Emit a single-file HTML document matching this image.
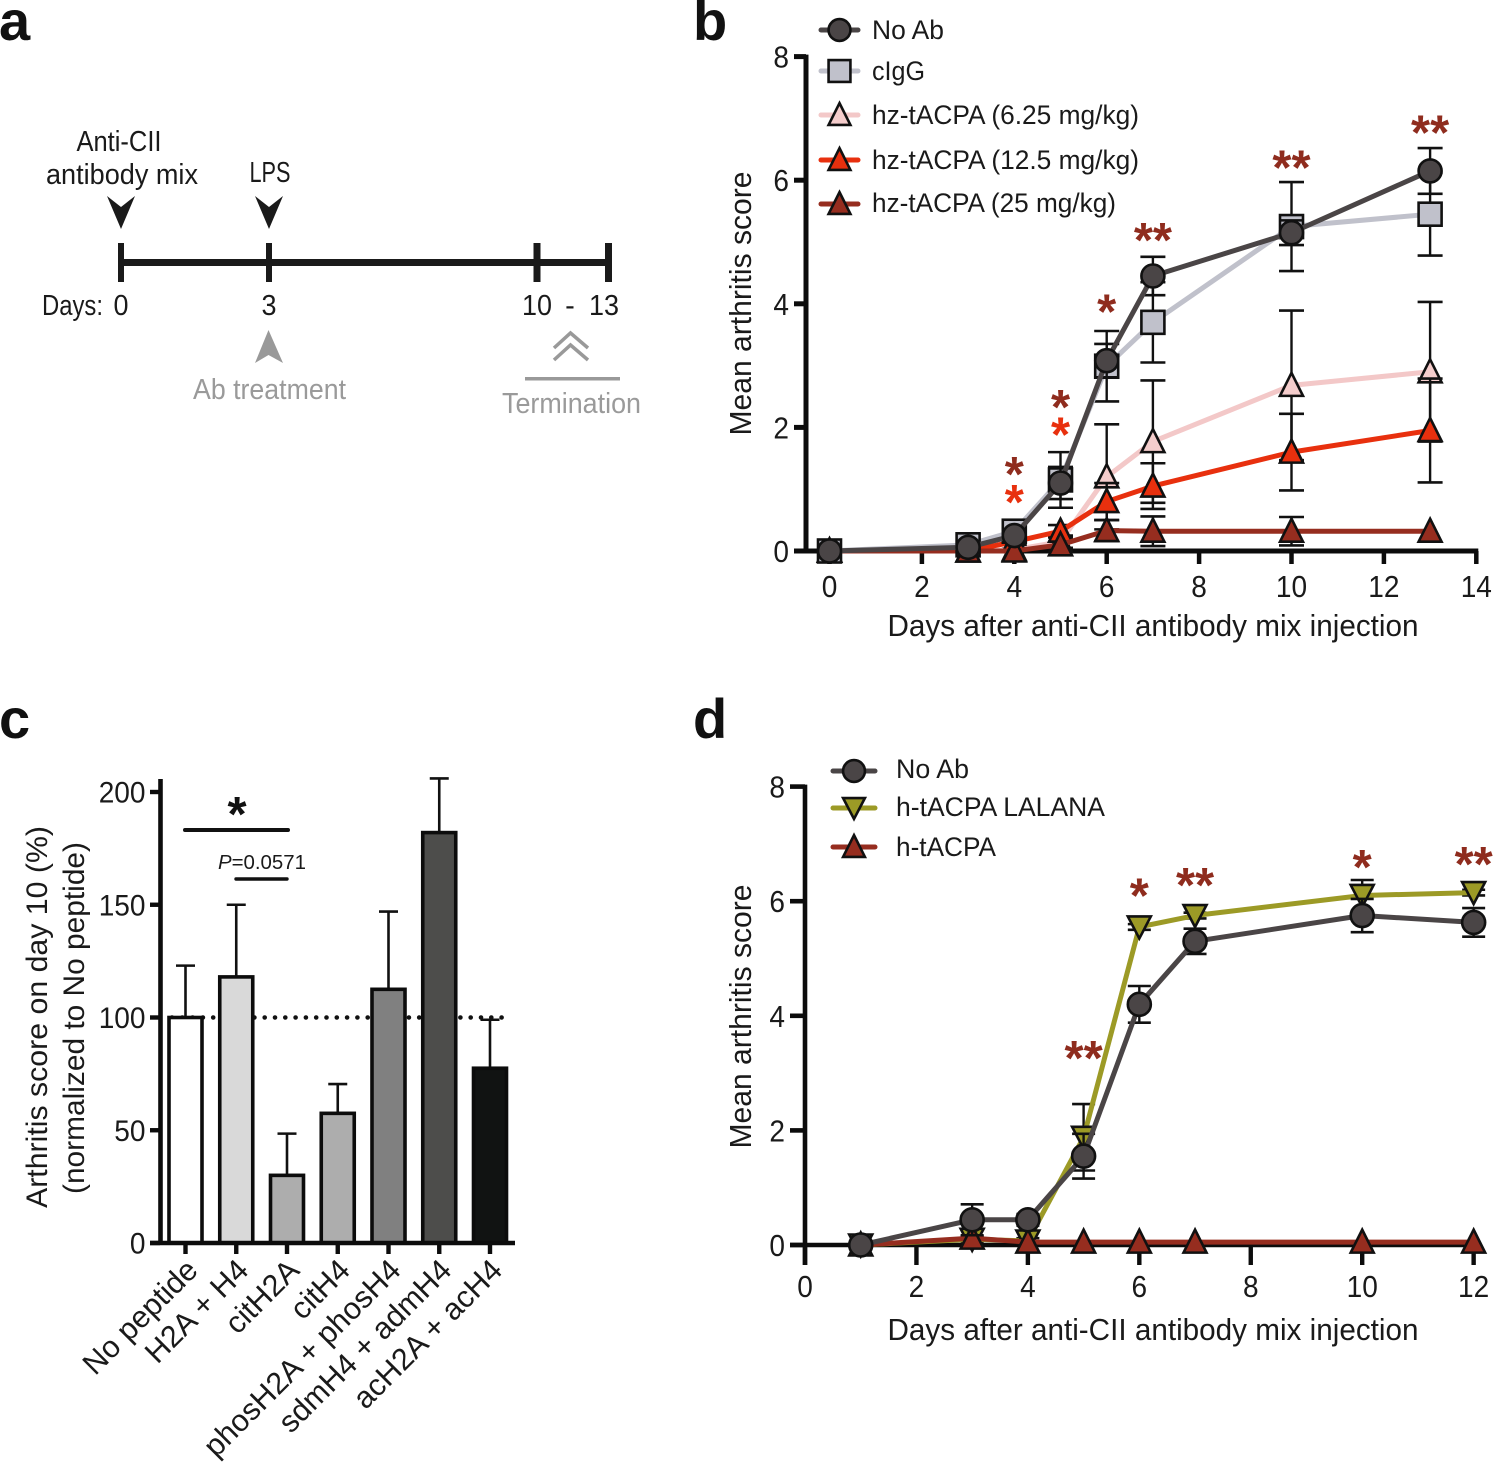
<!DOCTYPE html>
<html lang="en">
<head>
<meta charset="utf-8">
<title>Arthritis score figure</title>
<style>
html,body{margin:0;padding:0;background:#fff;}
svg{display:block;font-family:"Liberation Sans",Arial,sans-serif;}
</style>
</head>
<body>
<svg id="fig" xmlns="http://www.w3.org/2000/svg" width="1494" height="1468" viewBox="0 0 1494 1468">
  <rect width="1494" height="1468" fill="#fff"/>
  <text x="-1" y="40" font-size="56" font-weight="bold" fill="#111">a</text>
  <text x="693" y="40" font-size="56" font-weight="bold" fill="#111">b</text>
  <text x="-1" y="738" font-size="56" font-weight="bold" fill="#111">c</text>
  <text x="693" y="738" font-size="56" font-weight="bold" fill="#111">d</text>

  <g fill="#1a1a1a" font-size="28">
    <text x="119" y="151" text-anchor="middle" font-size="29" textLength="85" lengthAdjust="spacingAndGlyphs">Anti-CII</text>
    <text x="122" y="184" text-anchor="middle" font-size="29" textLength="152" lengthAdjust="spacingAndGlyphs">antibody mix</text>
    <text x="270" y="182" text-anchor="middle" font-size="29" textLength="41" lengthAdjust="spacingAndGlyphs">LPS</text>
    <polygon points="107,196 121,207 135,196 121,229" fill="#1a1a1a"/>
    <polygon points="255,196 269,207 283,196 269,229" fill="#1a1a1a"/>
    <rect x="121" y="259" width="487" height="7" fill="#1a1a1a"/>
    <rect x="118" y="243" width="6" height="39" fill="#1a1a1a"/>
    <rect x="266" y="243" width="6" height="39" fill="#1a1a1a"/>
    <rect x="533.500" y="243" width="7" height="39" fill="#1a1a1a"/>
    <rect x="605" y="243" width="7" height="39" fill="#1a1a1a"/>
    <text x="42" y="315" font-size="29" textLength="61" lengthAdjust="spacingAndGlyphs">Days:</text>
    <text x="121" y="315" text-anchor="middle" font-size="29" textLength="15" lengthAdjust="spacingAndGlyphs">0</text>
    <text x="269" y="315" text-anchor="middle" font-size="29" textLength="15" lengthAdjust="spacingAndGlyphs">3</text>
    <text x="537" y="315" text-anchor="middle" font-size="29" textLength="30" lengthAdjust="spacingAndGlyphs">10</text>
    <text x="570" y="315" text-anchor="middle" font-size="29">-</text>
    <text x="604" y="315" text-anchor="middle" font-size="29" textLength="30" lengthAdjust="spacingAndGlyphs">13</text>
    <polygon points="268.500,330 283,363 268.500,355 255,363" fill="#999"/>
    <text x="269.500" y="399" text-anchor="middle" font-size="29" fill="#9a9a9a" textLength="153" lengthAdjust="spacingAndGlyphs">Ab treatment</text>
    <polyline points="554,348 570.500,333 588,348" fill="none" stroke="#999" stroke-width="3.500"/>
    <polyline points="554,360 570.500,345 588,360" fill="none" stroke="#999" stroke-width="3.500"/>
    <rect x="525" y="377" width="95" height="3.500" fill="#999"/>
    <text x="571.500" y="413" text-anchor="middle" font-size="29" fill="#9a9a9a" textLength="139" lengthAdjust="spacingAndGlyphs">Termination</text>
  </g>
</svg>
<script>
// ---------- Panel b data ----------
const bDays = [0, 3, 4, 5, 6, 7, 10, 13];
const bXTicks = [0, 2, 4, 6, 8, 10, 12, 14];
const bYTicks = [0, 2, 4, 6, 8];
const bNoAb = [0, 0.06, 0.25, 1.1, 3.08, 4.45, 5.15, 6.15];
const bNoAbErr = [0, 0.08, 0.1, 0.26, 0.27, 0.31, 0.2, 0.37];
const bCIgG = [0, 0.1, 0.32, 1.15, 2.99, 3.7, 5.25, 5.45];
const bCIgGErr = [0, 0.1, 0.1, 0.45, 0.57, 0.65, 0.72, 0.67];
const bLow = [0, 0, 0.02, 0.15, 1.2, 1.77, 2.68, 2.9];
const bLowErr = [0, 0, 0.02, 0.1, 0.85, 0.99, 1.21, 1.13];
const bMid = [0, 0, 0.15, 0.32, 0.8, 1.05, 1.6, 1.95];
const bMidErr = [0, 0, 0.05, 0.1, 0.3, 0.37, 0.62, 0.84];
const bHigh = [0, 0, 0, 0.1, 0.33, 0.32, 0.32, 0.32];
const bHighErr = [0, 0, 0, 0.05, 0.17, 0.24, 0.23, 0];
const bBrownStarDays = [13, 10, 7, 6, 5, 4];
const bBrownStarLevels = [6.87, 6.3, 5.13, 3.97, 2.43, 1.34];
const bBrownStarLabels = ['**', '**', '**', '*', '*', '*'];
const bRedStarDays = [5, 4];
const bRedStarLevels = [1.98, 0.89];
const bRedStarLabels = ['*', '*'];

// ---------- Panel c data ----------
const cCategories = ['No peptide', 'H2A + H4', 'citH2A', 'citH4', 'phosH2A + phosH4', 'sdmH4 + admH4', 'acH2A + acH4'];
const cValues = [100, 118, 30, 57.5, 112.5, 182, 77.5];
const cUpper = [123, 150, 48.5, 70.5, 147, 206, 99];
const cYTicks = [0, 50, 100, 150, 200];
const cReference = 100;

// ---------- Panel d data ----------
const dDays = [1, 3, 4, 5, 6, 7, 10, 12];
const dXTicks = [0, 2, 4, 6, 8, 10, 12];
const dYTicks = [0, 2, 4, 6, 8];
const dNoAb = [0, 0.44, 0.44, 1.55, 4.2, 5.3, 5.75, 5.63];
const dNoAbErr = [0, 0.27, 0.1, 0.39, 0.32, 0.22, 0.29, 0.25];
const dLalana = [0, 0.1, 0.07, 1.88, 5.55, 5.75, 6.1, 6.15];
const dLalanaErr = [0, 0.05, 0.05, 0.58, 0.05, 0.05, 0.27, 0.05];
const dTacpa = [0, 0.12, 0.05, 0.05, 0.05, 0.05, 0.05, 0.05];
const dTacpaErr = [0, 0.03, 0, 0, 0, 0, 0, 0];
const dStarDays = [5, 6, 7, 10, 12];
const dStarLevels = [3.37, 6.2, 6.39, 6.7, 6.75];
const dStarLabels = ['**', '*', '**', '*', '**'];

// ---------- Axis functions ----------
function bX(v) { return 829.5 + v * 46.2; }
function bY(v) { return 551 - v * 61.8; }
function cY(v) { return 1243 - v * 2.255; }
function cX(i) { return 185.5 + i * 50.75; }
function dX(v) { return 805 + v * 55.72; }
function dY(v) { return 1245 - v * 57.3; }

const SVGNS = 'http://www.w3.org/2000/svg';
const fig = document.getElementById('fig');
function mk(tag, attrs, parent) {
  const el = document.createElementNS(SVGNS, tag);
  for (const k in attrs) el.setAttribute(k, attrs[k]);
  (parent || fig).appendChild(el);
  return el;
}
function group(name) {
  const g = mk('g', {});
  
  
  return g;
}
function seg(parent, x1, y1, x2, y2, color, w, cap) {
  return mk('line', { x1: x1, y1: y1, x2: x2, y2: y2, stroke: color, 'stroke-width': w, 'stroke-linecap': cap || 'butt' }, parent);
}
function label(parent, x, y, s, size, opts) {
  const o = opts || {};
  const a = { x: x, y: y, 'font-size': size, fill: o.fill || '#1a1a1a', 'text-anchor': o.anchor || 'start' };
  if (o.len) { a.textLength = o.len; a.lengthAdjust = 'spacingAndGlyphs'; }
  if (o.weight) a['font-weight'] = o.weight;
  if (o.transform) a.transform = o.transform;
  const t = mk('text', a, parent);
  t.textContent = s;
  return t;
}
function marker(parent, kind, x, y, fill, s) {
  const sw = 2.6, k = s || 1;
  if (kind === 'circle') return mk('circle', { cx: x, cy: y, r: 11.5 * k, fill: fill, stroke: '#111', 'stroke-width': sw }, parent);
  if (kind === 'square') return mk('rect', { x: x - 11.5 * k, y: y - 11.5 * k, width: 23 * k, height: 23 * k, fill: fill, stroke: '#111', 'stroke-width': sw }, parent);
  let pts;
  if (kind === 'up') pts = [x, y - 12.5 * k, x + 11.5 * k, y + 10.5 * k, x - 11.5 * k, y + 10.5 * k];
  else pts = [x - 11.5 * k, y - 10.5 * k, x + 11.5 * k, y - 10.5 * k, x, y + 11.5 * k];
  return mk('polygon', { points: pts.join(','), fill: fill, stroke: '#111', 'stroke-width': sw, 'stroke-linejoin': 'miter' }, parent);
}
function drawSeries(name, days, vals, errs, xf, yf, kind, lineColor, fill, capW) {
  const g = group(name + '-series');
  days.forEach(function (d, i) {
    if (errs[i] <= 0) return;
    const x = xf(d);
    const eb = group(name + '-error-bar');
    seg(eb, x, yf(vals[i] + errs[i]), x, yf(vals[i] - errs[i]), '#111', 2.4);
    seg(eb, x - capW / 2, yf(vals[i] + errs[i]), x + capW / 2, yf(vals[i] + errs[i]), '#111', 2.6);
    seg(eb, x - capW / 2, yf(vals[i] - errs[i]), x + capW / 2, yf(vals[i] - errs[i]), '#111', 2.6);
    g.appendChild(eb);
  });
  const line = mk('polyline', {
    points: days.map(function (d, i) { return xf(d) + ',' + yf(vals[i]); }).join(' '),
    fill: 'none', stroke: lineColor, 'stroke-width': 5, 'stroke-linejoin': 'round'
  }, g);
  
  
  days.forEach(function (d, i) {
    const m = marker(g, kind, xf(d), yf(vals[i]), fill);
    
    
  });
  fig.appendChild(g);
}
function drawStars(name, days, levels, labels, xf, yf, color) {
  const g = group(name);
  days.forEach(function (d, i) {
    const t = label(g, xf(d), yf(levels[i]) + 23, labels[i], 49, { fill: color, anchor: 'middle', weight: 'bold' });
    
    
  });
}
function legendEntry(name, x0, x1, y, tx, ty, s, len, kind, lineColor, fill) {
  const g = group(name);
  const l = seg(g, x0, y, x1, y, lineColor, 5, 'round');
  
  
  const m = marker(g, kind, (x0 + x1) / 2, y, fill, 0.95);
  
  
  const t = label(g, tx, ty, s, 27, { len: len });
  
  
}
function digitsLen(v) { return String(v).length * 15.6; }

const NOAB = '#4a4546', CIGG = '#c0c1cb', PINK = '#f3c8c8', RED = '#e8300e', BROWN = '#962d1f', OLIVE = '#9c9a26';
const AX = '#0c0c0c';

// ---------- Panel b ----------
(function () {
  const ax = group('panel-b-axes');
  const yLine = seg(ax, 806, bY(8) - 2, 806, bY(0) + 2.5, AX, 5);
  
  
  const xLine = seg(ax, 804, bY(0), bX(14) + 2, bY(0), AX, 5);
  
  
  bYTicks.forEach(function (v) {
    const tk = seg(ax, 794, bY(v), 806, bY(v), AX, 5);
    
    
    const t = label(ax, 789, bY(v) + 11, String(v), 31, { anchor: 'end', len: digitsLen(v) });
    
    
  });
  bXTicks.forEach(function (v) {
    const tk = seg(ax, bX(v), bY(0), bX(v), 564, AX, 4.5);
    
    
    const t = label(ax, bX(v), 597, String(v), 31, { anchor: 'middle', len: digitsLen(v) });
    
    
  });
  const xt = label(ax, 1153, 636, 'Days after anti-CII antibody mix injection', 31, { anchor: 'middle', len: 531 });
  
  
  const yt = label(ax, 751, 303.5, 'Mean arthritis score', 31, { anchor: 'middle', len: 264, transform: 'rotate(-90 751 303.5)' });
  
  

  drawSeries('hz-tacpa-6-25', bDays, bLow, bLowErr, bX, bY, 'up', PINK, '#f5cdcc', 25);
  drawSeries('hz-tacpa-12-5', bDays, bMid, bMidErr, bX, bY, 'up', RED, RED, 25);
  drawSeries('hz-tacpa-25', bDays, bHigh, bHighErr, bX, bY, 'up', BROWN, BROWN, 25);
  drawSeries('cigg', bDays, bCIgG, bCIgGErr, bX, bY, 'square', CIGG, CIGG, 25);
  drawSeries('no-ab', bDays, bNoAb, bNoAbErr, bX, bY, 'circle', NOAB, NOAB, 25);

  drawStars('panel-b-brown-stars', bBrownStarDays, bBrownStarLevels, bBrownStarLabels, bX, bY, '#8f2c1e');
  drawStars('panel-b-red-stars', bRedStarDays, bRedStarLevels, bRedStarLabels, bX, bY, '#e8300e');

  legendEntry('legend-no-ab', 821, 858, 30, 872, 39, 'No Ab', 72, 'circle', NOAB, NOAB);
  legendEntry('legend-cigg', 821, 858, 71, 872, 80, 'cIgG', 53, 'square', CIGG, CIGG);
  legendEntry('legend-hz-6-25', 821, 858, 115, 872, 124, 'hz-tACPA (6.25 mg/kg)', 267, 'up', PINK, '#f5cdcc');
  legendEntry('legend-hz-12-5', 821, 858, 160, 872, 169, 'hz-tACPA (12.5 mg/kg)', 267, 'up', RED, RED);
  legendEntry('legend-hz-25', 821, 858, 204, 872, 212, 'hz-tACPA (25 mg/kg)', 244, 'up', BROWN, BROWN);
})();

// ---------- Panel c ----------
(function () {
  const g = group('panel-c');
  const dots = seg(g, 172, cY(cReference), 510, cY(cReference), '#111', 4.6, 'round');
  dots.setAttribute('stroke-dasharray', '0 10.3');
  
  
  const fills = ['#ffffff', '#d9d9d9', '#adadad', '#adadad', '#808080', '#4d4d4b', '#111312'];
  cCategories.forEach(function (c, i) {
    const x = cX(i), w = 33;
    const eb = group('bar-error-' + i);
    seg(eb, x, cY(cValues[i]), x, cY(cUpper[i]), '#111', 2.6);
    seg(eb, x - 9.5, cY(cUpper[i]), x + 9.5, cY(cUpper[i]), '#111', 2.6);
    g.appendChild(eb);
    const bar = mk('rect', { x: x - w / 2, y: cY(cValues[i]), width: w, height: cY(0) - cY(cValues[i]), fill: fills[i], stroke: '#0c0c0c', 'stroke-width': 3.6 }, g);
    
    
  });
  const yLine = seg(g, 160.5, 779, 160.5, cY(0) + 2, AX, 4.6);
  
  
  const xLine = seg(g, 150, cY(0), 515, cY(0), AX, 4.6);
  
  
  cYTicks.forEach(function (v) {
    const tk = seg(g, 150, cY(v), 160, cY(v), AX, 4.4);
    
    
    const t = label(g, 145.5, cY(v) + 10.5, String(v), 30, { anchor: 'end', len: digitsLen(v) });
    
    
  });
  cCategories.forEach(function (c, i) {
    const tk = seg(g, cX(i), cY(0), cX(i), 1254, AX, 4.4);
    
    
    const ax = cX(i) + 14, ay = 1272;
    const t = label(g, ax, ay, c, 30.5, { anchor: 'end', transform: 'rotate(-45 ' + ax + ' ' + ay + ')' });
    
    
  });
  const t1 = label(g, 47, 1017, 'Arthritis score on day 10 (%)', 30, { anchor: 'middle', len: 382, transform: 'rotate(-90 47 1017)' });
  
  
  const t2 = label(g, 84, 1018, '(normalized to No peptide)', 30, { anchor: 'middle', len: 352, transform: 'rotate(-90 84 1018)' });
  
  
  const b1 = seg(g, 185, 830, 288, 830, '#111', 4, 'round');
  
  
  const s = label(g, 237, 831, '*', 49, { anchor: 'middle', fill: '#111', weight: 'bold' });
  
  
  const b2 = seg(g, 236, 879, 287, 879, '#111', 3.4, 'round');
  
  
  const p = mk('text', { x: 218, y: 869, 'font-size': 20, fill: '#1a1a1a', textLength: 88, lengthAdjust: 'spacingAndGlyphs' }, g);
  
  
  const pi = mk('tspan', { 'font-style': 'italic' }, p);
  pi.textContent = 'P';
  const pv = mk('tspan', {}, p);
  pv.textContent = '=0.0571';
})();

// ---------- Panel d ----------
(function () {
  const ax = group('panel-d-axes');
  const yLine = seg(ax, dX(0), dY(8) - 2, dX(0), 1265, AX, 4.6);
  
  
  const xLine = seg(ax, 790, dY(0), dX(12) + 4, dY(0), AX, 4.6);
  
  
  dYTicks.forEach(function (v) {
    const tk = seg(ax, 790, dY(v), dX(0), dY(v), AX, 4.6);
    
    
    const t = label(ax, 785, dY(v) + 11, String(v), 31, { anchor: 'end', len: digitsLen(v) });
    
    
  });
  dXTicks.forEach(function (v) {
    const tk = seg(ax, dX(v), dY(0), dX(v), 1265, AX, 4.4);
    
    
    const t = label(ax, dX(v), 1297, String(v), 31, { anchor: 'middle', len: digitsLen(v) });
    
    
  });
  const xt = label(ax, 1153, 1340, 'Days after anti-CII antibody mix injection', 31, { anchor: 'middle', len: 531 });
  
  
  const yt = label(ax, 751, 1016.5, 'Mean arthritis score', 31, { anchor: 'middle', len: 264, transform: 'rotate(-90 751 1016.5)' });
  
  

  drawSeries('h-tacpa-lalana', dDays, dLalana, dLalanaErr, dX, dY, 'down', OLIVE, OLIVE, 23);
  drawSeries('h-tacpa', dDays, dTacpa, dTacpaErr, dX, dY, 'up', BROWN, BROWN, 23);
  drawSeries('d-no-ab', dDays, dNoAb, dNoAbErr, dX, dY, 'circle', NOAB, NOAB, 23);

  drawStars('panel-d-stars', dStarDays, dStarLevels, dStarLabels, dX, dY, '#8f2c1e');

  legendEntry('legend-d-no-ab', 833, 875, 771, 896, 778, 'No Ab', 73, 'circle', NOAB, NOAB);
  legendEntry('legend-d-lalana', 833, 875, 808, 896, 816, 'h-tACPA LALANA', 209, 'down', OLIVE, OLIVE);
  legendEntry('legend-d-tacpa', 833, 875, 847, 896, 856, 'h-tACPA', 100, 'up', BROWN, BROWN);
})();
</script>
</body>
</html>
